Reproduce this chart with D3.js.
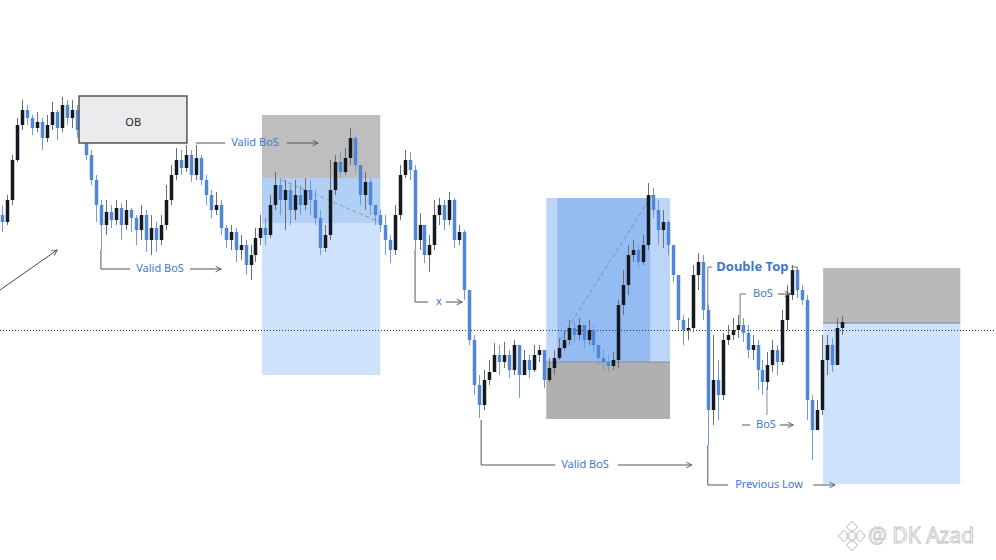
<!DOCTYPE html>
<html><head><meta charset="utf-8">
<script src="https://cdn.jsdelivr.net/npm/d3@7"></script>
<style>html,body{margin:0;padding:0;background:#fff;}svg{display:block;}</style>
</head><body><svg id="chart" width="996" height="560"></svg>
<script>
// ---- data (price units, arbitrary) ----
const firstOpen = 345;
const closes = [338,360,400,435,450,442,432,438,422,435,
448,432,455,442,450,430,425,405,380,355,
335,348,340,352,335,350,342,330,345,320,
332,320,335,360,385,400,392,405,385,402,
380,365,350,355,332,320,328,310,315,295,
305,322,332,325,355,375,360,370,350,365,
355,370,360,342,312,325,370,398,388,402,
422,395,365,378,355,345,335,320,310,345,
385,400,390,320,335,305,315,345,355,340,
360,320,328,270,220,175,155,180,188,205,
198,205,190,215,185,200,190,205,210,180,
192,202,212,220,232,225,235,220,230,215,
202,198,194,200,255,275,305,310,298,315,
365,350,330,338,315,285,240,230,232,285,
298,250,150,180,165,220,225,230,235,227,
210,215,190,178,195,210,198,240,265,290,
270,260,160,130,150,200,215,195,232,238];
const highs = [355,365,405,442,460,455,445,448,442,445,
458,450,463,460,460,455,448,428,410,385,
360,360,355,360,357,360,352,345,355,350,
345,338,345,375,395,412,410,415,410,415,
405,385,370,368,360,335,335,332,325,320,
315,332,345,342,365,388,382,380,375,380,
375,382,380,370,350,335,400,405,408,412,
432,425,395,388,382,355,350,345,325,355,
395,410,408,395,347,335,325,360,362,360,
368,362,335,330,270,225,185,190,200,217,
215,218,210,220,215,210,205,215,215,210,
202,210,222,230,240,238,242,235,240,235,
215,210,205,208,260,290,315,320,315,325,
377,372,360,350,340,315,285,245,242,295,
307,305,255,225,200,227,235,242,245,242,
235,225,220,200,208,220,215,250,275,295,
292,275,265,165,160,225,225,222,242,244];
const lows = [328,335,355,398,430,435,425,428,410,418,
430,420,428,435,432,422,420,400,375,338,
310,325,332,335,320,330,328,315,320,308,
305,308,315,330,355,380,385,388,378,380,
375,355,342,345,325,312,310,298,300,285,
280,298,315,315,322,350,345,330,335,340,
345,350,345,335,305,308,320,365,382,385,
395,388,355,350,345,335,328,305,297,305,
340,382,380,310,310,297,288,310,335,330,
335,312,315,260,215,165,142,150,175,190,
185,192,182,185,162,185,182,188,198,172,
178,185,200,210,215,218,220,212,215,208,
195,190,188,190,192,245,265,298,292,295,
310,342,315,312,305,278,230,215,220,228,
270,240,115,135,140,160,215,220,222,218,
202,200,170,165,170,188,185,195,230,260,
262,255,140,100,130,145,185,188,215,225];
const levelPrice = 230;
const labels = {ob:"OB", bos1:"Valid BoS", bos2:"Valid BoS", x:"x", bos3:"Valid BoS",
  dtop:"Double Top", bosUp:"BoS", bosDn:"BoS", prevLow:"Previous Low", mark:"@ DK Azad"};

const candles = closes.map((c,i)=>{
  const o = i===0 ? firstOpen : closes[i-1];
  return {i, o, c, h: Math.max(highs[i], o, c), l: Math.min(lows[i], o, c)};
});

const W=996,H=560;
const svg = d3.select("#chart");
const x = d3.scaleLinear().domain([0,169]).range([2,842]);
const y = d3.scaleLinear().domain([0,560]).range([560,0]);

const BLUE="#4f86d8", DARK="#141821", LINE="#555", TXT="#3f78cc";
const font = "'Noto Sans', 'Open Sans', sans-serif";

function rect(i0,i1,p0,p1,fill,stroke){
  return svg.append("rect").attr("x",x(i0)).attr("y",y(p0)).attr("width",x(i1)-x(i0)).attr("height",y(p1)-y(p0))
    .attr("fill",fill).attr("stroke",stroke||"none");
}
// zones
rect(52.3,76.1,445,382,"#bebebe");
rect(52.3,76.1,382,185,"#cfe2fb");
rect(52.3,76.1,382,337,"#b2cff6");
rect(109.5,134.4,362,198,"#bcd5f8");
rect(111.7,130.4,362,198,"#94bcf3");
rect(109.5,134.4,198,141,"#b0b0b0");
rect(165.2,192.8,292,237,"#b9b9b9");
rect(165.2,192.8,237,76,"#cfe2fb");
svg.append("line").attr("x1",x(165.2)).attr("x2",x(192.8)).attr("y1",y(237)).attr("y2",y(237)).attr("stroke","#6d7f99").attr("stroke-width",1);
svg.append("line").attr("x1",x(109.5)).attr("x2",x(134.4)).attr("y1",y(198)).attr("y2",y(198)).attr("stroke","#8e8e8e").attr("stroke-width",1);

// dashed diagonals
svg.append("line").attr("x1",x(56.3)).attr("y1",y(380)).attr("x2",x(76.0)).attr("y2",y(338))
  .attr("stroke","#8a96a8").attr("stroke-dasharray","4,3").attr("stroke-width",1);
svg.append("line").attr("x1",x(112.3)).attr("y1",y(220)).attr("x2",x(130.8)).attr("y2",y(365))
  .attr("stroke","#7a8aa3").attr("stroke-dasharray","4,3").attr("stroke-width",1);

// dotted level
svg.append("line").attr("x1",0).attr("x2",W).attr("y1",y(levelPrice)+0.5).attr("y2",y(levelPrice)+0.5)
  .attr("stroke","#333").attr("stroke-dasharray","1,2").attr("stroke-width",1);

// candles
const g = svg.append("g");
const bw = 3.5;
g.selectAll("line.w").data(candles).join("line")
  .attr("x1",d=>Math.round(x(d.i))+0.5).attr("x2",d=>Math.round(x(d.i))+0.5)
  .attr("y1",d=>y(d.h)).attr("y2",d=>y(d.l))
  .attr("stroke",d=>d.c>=d.o?"#6a6d74":"#6d9be0").attr("stroke-width",1);
g.selectAll("rect.b").data(candles).join("rect")
  .attr("x",d=>Math.round(x(d.i))+0.5-bw/2).attr("width",bw)
  .attr("y",d=>y(Math.max(d.o,d.c))).attr("height",d=>Math.max(1,Math.abs(y(d.o)-y(d.c))))
  .attr("fill",d=>d.c>=d.o?DARK:BLUE);

// OB box
rect(15.5,37.2,464,417,"#ebebee",LINE).attr("stroke-width",1.5);
svg.append("text").attr("x",x(26.4)).attr("y",y(437)).attr("text-anchor","middle").attr("dominant-baseline","middle")
  .attr("font-family",font).attr("font-size",11).attr("fill","#222").text(labels.ob);

// arrow marker
const defs = svg.append("defs");
defs.append("marker").attr("id","ah").attr("viewBox","0 0 10 10").attr("refX",9).attr("refY",5)
  .attr("markerWidth",7).attr("markerHeight",7).attr("orient","auto")
  .append("path").attr("d","M1,1 L9,5 L1,9").attr("fill","none").attr("stroke",LINE).attr("stroke-width",1.3);

function path(pts, arrow, color){
  const p = svg.append("path").attr("d", d3.line()(pts.map(q=>[x(q[0]),y(q[1])])))
    .attr("fill","none").attr("stroke",color||LINE).attr("stroke-width",1);
  if(arrow) p.attr("marker-end","url(#ah)");
}
function label(i,p,t,size,bold){
  svg.append("text").attr("x",x(i)).attr("y",y(p)).attr("dominant-baseline","middle")
    .attr("font-family",font).attr("font-size",size||11).attr("font-weight",bold?"bold":"normal")
    .attr("fill",TXT).text(t);
}
// first arrow
path([[-0.4,270],[11.1,310]],true,"#444");
// Valid BoS upper
path([[39.0,417],[44.9,417]]);
label(46.1,417,labels.bos1);
path([[57.3,417],[63.6,417]],true);
// Valid BoS lower
path([[19.9,310],[19.9,291],[25.8,291]]);
label(27.0,291,labels.bos2);
path([[37.8,291],[44.1,291]],true);
// x
path([[83.1,310],[83.1,258],[85.7,258]]);
label(87.3,258,labels.x);
path([[89.3,258],[92.6,258]],true);
// Valid BoS bottom
path([[96.4,140],[96.4,95],[111.3,95]]);
label(112.5,95,labels.bos3);
path([[123.9,95],[138.8,95]],true);
// Double top
path([[142.0,230],[142.0,293],[142.9,293]],false,"#777");
label(143.7,293,labels.dtop,13,true);
path([[158.8,293],[160.0,293],[160.0,285]],false,"#777");
// BoS up
path([[148.5,235],[148.5,266],[149.7,266]],false,"#777");
label(151.1,266,labels.bosUp);
path([[156.1,266],[158.6,266]],true);
// BoS down
path([[153.9,173],[153.9,145]],false,"#888");
path([[148.9,135],[150.5,135]]);
label(151.7,135,labels.bosDn);
path([[156.5,135],[159.2,135]],true);
// Previous low
path([[142.0,115],[142.0,75],[146.1,75]]);
label(147.5,75,labels.prevLow);
path([[163.2,75],[167.6,75]],true);

// watermark
const wm = svg.append("g").attr("transform","translate(852,536)");
[[0,-9,4],[-8,0,4],[8,0,4],[0,9,4],[0,0,4]].forEach(s=>{
  wm.append("rect").attr("x",s[0]-s[2]).attr("y",s[1]-s[2]).attr("width",s[2]*2).attr("height",s[2]*2)
    .attr("transform",`rotate(45 ${s[0]} ${s[1]})`).attr("fill","none").attr("stroke","#cfcfcf").attr("stroke-width",1.2);
});
svg.append("text").attr("x",868).attr("y",543).attr("font-family",font).attr("font-size",21)
  .attr("fill","#fff").attr("stroke","#c4c4c4").attr("stroke-width",0.9).text(labels.mark);
</script></body></html>
